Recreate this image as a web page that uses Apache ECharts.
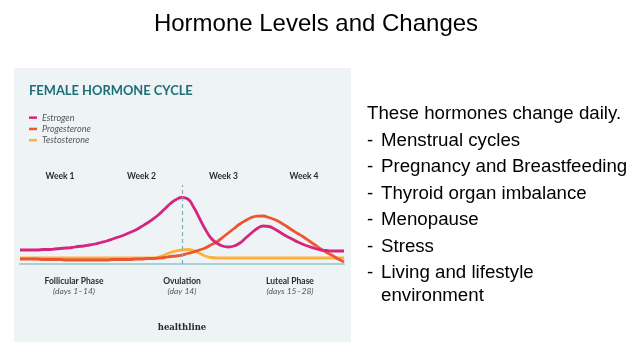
<!DOCTYPE html>
<html>
<head>
<meta charset="utf-8">
<script src="https://cdn.jsdelivr.net/npm/echarts@6/dist/echarts.min.js"></script>
<style>
html,body{margin:0;padding:0;background:#fff;}
#c{width:638px;height:359px;}
</style>
</head>
<body>
<div id="c"></div>
<script>
// ---- data: one value per half cycle day (0, 0.5, ... 28), relative level ----
const seriesNames = ['Estrogen', 'Progesterone', 'Testosterone'];
const days = [0,0.5,1,1.5,2,2.5,3,3.5,4,4.5,5,5.5,6,6.5,7,7.5,8,8.5,9,9.5,10,10.5,11,11.5,12,12.5,13,13.5,14,14.5,15,15.5,16,16.5,17,17.5,18,18.5,19,19.5,20,20.5,21,21.5,22,22.5,23,23.5,24,24.5,25,25.5,26,26.5,27,27.5,28];
const estrogen = [14,14,14,14,14.5,14.5,15,15.5,16,16.5,17.5,18,19,20,21.5,23,25,27,29,31.5,34,37.5,41,45,49.5,55,60.5,64.5,66.5,65,57,46,35,26,21,18,17,18,21,26,31,35.5,38,37.5,35,31.5,28,25,22,19.5,17.5,15.5,14,13.5,13,13,13];
const progesterone = [5,5,5,5,4.5,4.5,4.5,4.5,4,4,4,4,4,4,4,4,4.5,4.5,4.5,4.5,5,5,5.5,5.5,6,6.5,7.5,8,9,10.5,12,14,16,19,22,26.5,31,35.5,40,43.5,46.5,47.8,48,46.5,44.5,41.5,38,34,30.5,27,23,19,15,11.5,8.5,5,2];
const testosterone = [6,6,6,6,6,6,6,6,6,6,6,6,6,6,6,6,6,6,6,6,6,6,6,6,7,9,11.5,13,14,14.5,13.5,11,8,6.5,6,6,6,6,6,6,6,6,6,6,6,6,6,6,6,6,6,6,6,6,6,6,6];
const weekLabels = ['Week 1', 'Week 2', 'Week 3', 'Week 4'];
const phaseLabels = ['Follicular Phase', 'Ovulation', 'Luteal Phase'];
const phaseDays = ['(days 1–14)', '(day 14)', '(days 15–28)'];
const ovulationDay = 14;
const slideTitle = 'Hormone Levels and Changes';
const chartTitle = 'FEMALE HORMONE CYCLE';
const bulletIntro = 'These hormones change daily.';
const bullets = [['Menstrual cycles'], ['Pregnancy and Breastfeeding'], ['Thyroid organ imbalance'], ['Menopause'], ['Stress'], ['Living and lifestyle', 'environment']];

const colors = ['#d6257f', '#ec5631', '#fbb13c'];
const chart = echarts.init(document.getElementById('c'), null, {renderer: 'canvas'});
const pairs = vals => days.map((d, i) => [d, vals[i]]);

const graphics = [];
graphics.push({type: 'rect', z: -10, shape: {x: 14, y: 68, width: 337, height: 274}, style: {fill: '#eef3f6'}});
graphics.push({type: 'text', x: 316, y: 24, style: {text: slideTitle, font: '24px "Liberation Sans", Arial, sans-serif', fill: '#000', textAlign: 'center', textVerticalAlign: 'middle'}});
graphics.push({type: 'text', x: 29, y: 91, style: {text: chartTitle, font: 'bold 12.9px Lato, "Open Sans", sans-serif', fill: '#1d6f76', textAlign: 'left', textVerticalAlign: 'middle'}});
const weekX = [60, 141.5, 223.5, 304];
weekLabels.forEach((w, i) => graphics.push({type: 'text', x: weekX[i], y: 176, style: {text: w, font: 'bold 8.5px Lato, "Open Sans", sans-serif', fill: '#2b2b2b', textAlign: 'center', textVerticalAlign: 'middle'}}));
const phaseX = [74, 182, 290];
phaseLabels.forEach((p, i) => {
  graphics.push({type: 'text', x: phaseX[i], y: 281, style: {text: p, font: 'bold 8.5px Lato, "Open Sans", sans-serif', fill: '#2b2b2b', textAlign: 'center', textVerticalAlign: 'middle'}});
  graphics.push({type: 'text', x: phaseX[i], y: 291, style: {text: phaseDays[i], font: 'italic 8.5px Lato, "Open Sans", sans-serif', fill: '#555', textAlign: 'center', textVerticalAlign: 'middle'}});
});
graphics.push({type: 'text', x: 182, y: 328, style: {text: 'healthline', font: 'bold 8.5px "DejaVu Serif", serif', fill: '#2b2b2b', textAlign: 'center', textVerticalAlign: 'middle'}});
const tFont = '18.7px "Liberation Sans", Arial, sans-serif';
graphics.push({type: 'text', x: 367, y: 114, style: {text: bulletIntro, font: tFont, fill: '#000', textVerticalAlign: 'middle'}});
const lineYs = [[140.5], [167], [193.5], [220], [246.5], [273, 296]];
bullets.forEach((b, i) => {
  graphics.push({type: 'text', x: 367, y: lineYs[i][0], style: {text: '-', font: tFont, fill: '#000', textVerticalAlign: 'middle'}});
  b.forEach((ln, j) => graphics.push({type: 'text', x: 381, y: lineYs[i][j], style: {text: ln, font: tFont, fill: '#000', textVerticalAlign: 'middle'}}));
});

function mk(name, vals, color, extra) {
  return Object.assign({
    name, type: 'line', data: pairs(vals), smooth: 0.5, symbol: 'none',
    lineStyle: {color, width: 2.8}, itemStyle: {color}
  }, extra || {});
}

chart.setOption({
  animation: false,
  backgroundColor: '#fff',
  graphic: graphics,
  legend: {
    left: 24, top: 107, orient: 'vertical', icon: 'rect', itemWidth: 8, itemHeight: 2.5, itemGap: 0,
    data: seriesNames,
    textStyle: {fontFamily: 'Lato, "Open Sans", sans-serif', fontStyle: 'italic', fontSize: 9, color: '#555', lineHeight: 11.3}
  },
  grid: {left: 20, right: 294, top: 164, bottom: 95},
  xAxis: {type: 'value', min: 0, max: 28, axisLine: {show: true, lineStyle: {color: '#a7d2d1', width: 2}}, axisTick: {show: false}, axisLabel: {show: false}, splitLine: {show: false}},
  yAxis: {type: 'value', min: 0, max: 100, show: false},
  series: [
    mk(seriesNames[2], testosterone, colors[2], {z: 2}),
    mk(seriesNames[1], progesterone, colors[1], {z: 3}),
    mk(seriesNames[0], estrogen, colors[0], {z: 4, markLine: {silent: true, symbol: 'none', label: {show: false},
      lineStyle: {color: '#86aeae', type: [4, 3], width: 1.2},
      data: [[{coord: [ovulationDay, 0]}, {coord: [ovulationDay, 79]}]]}})
  ]
});
</script>
</body>
</html>
